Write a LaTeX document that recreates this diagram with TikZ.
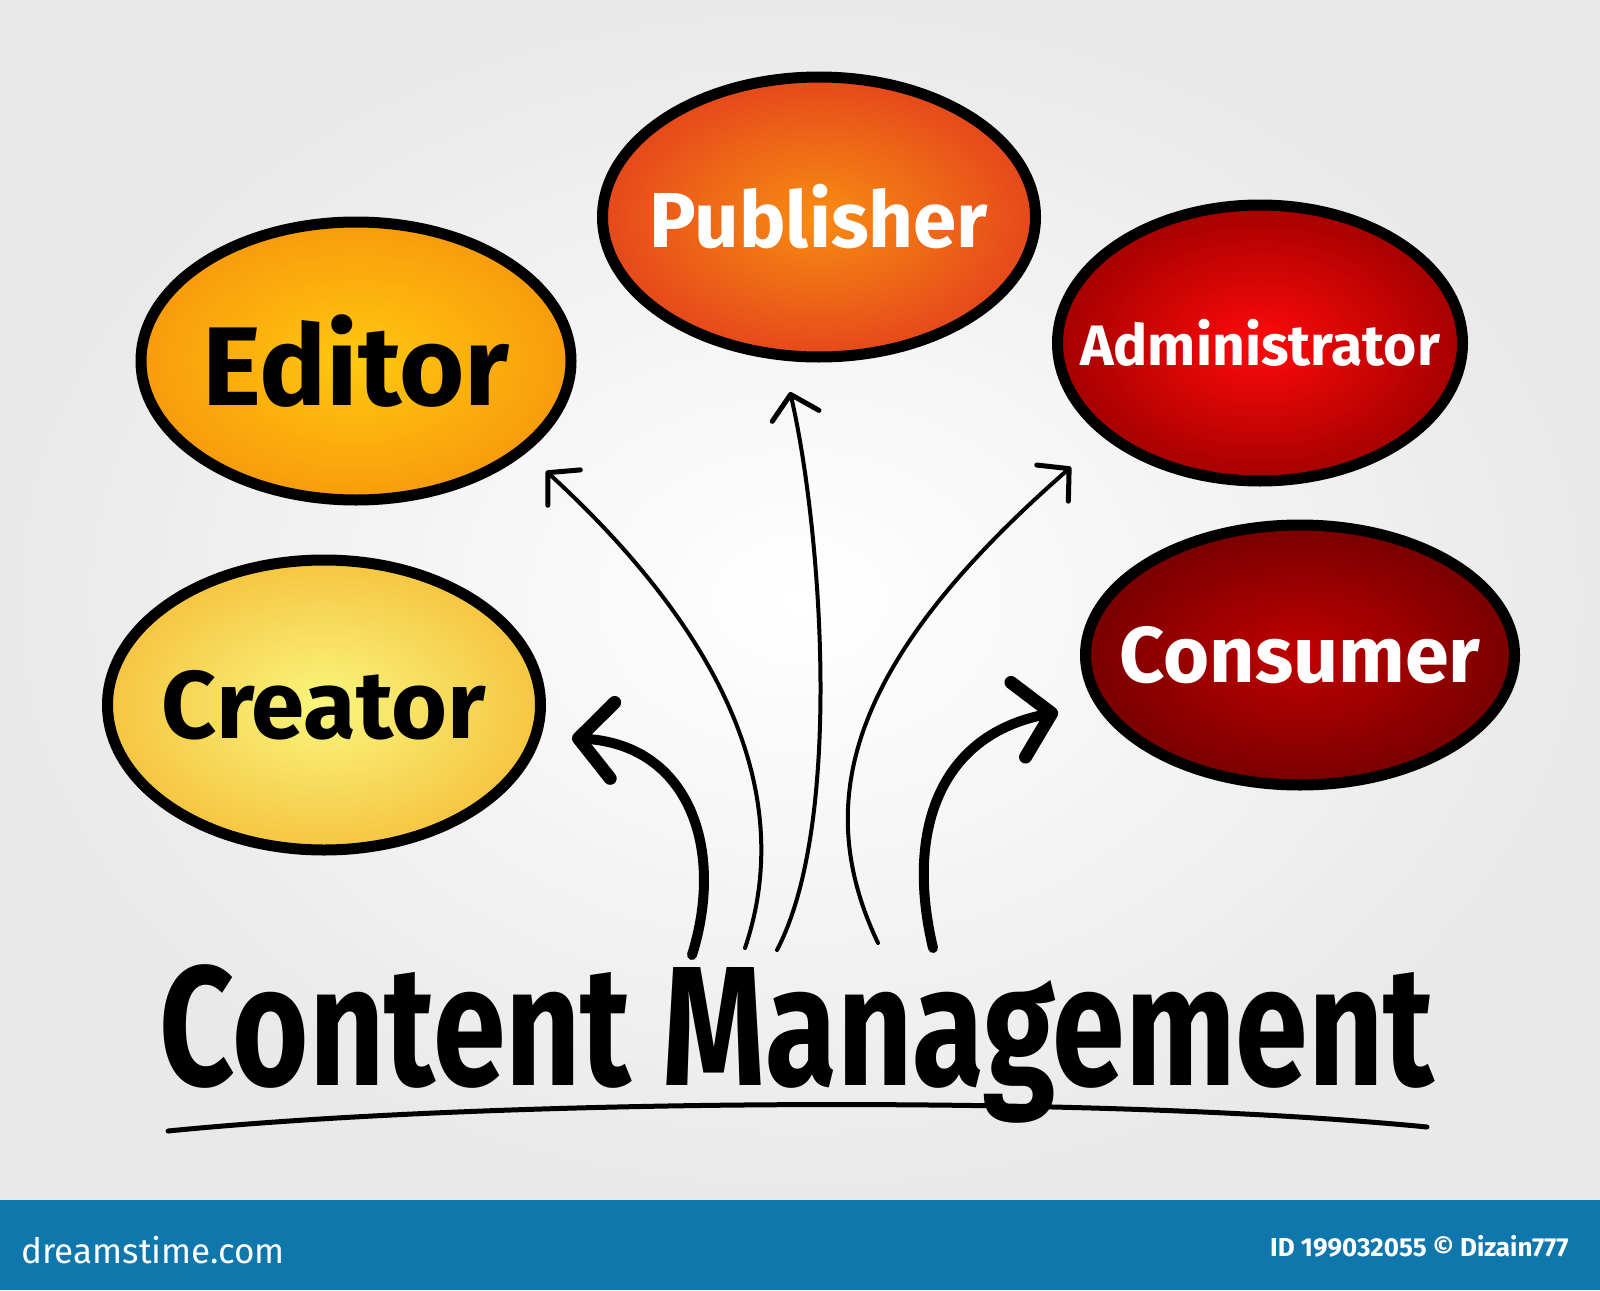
\documentclass[tikz,border=0pt]{standalone}
\usepackage{fontspec}
\setmainfont{Fira Sans}
\usetikzlibrary{arrows.meta,shapes.geometric,positioning}
\definecolor{editorin}{HTML}{FFC80F}
\definecolor{editorout}{HTML}{F99B0C}
\definecolor{creatorin}{HTML}{F9F67E}
\definecolor{creatorout}{HTML}{F6C541}
\definecolor{pubin}{HTML}{F98C12}
\definecolor{pubout}{HTML}{E5481B}
\definecolor{adminin}{HTML}{FF0A0A}
\definecolor{adminout}{HTML}{A50000}
\definecolor{consin}{HTML}{C10000}
\definecolor{consout}{HTML}{780000}
\definecolor{bggray}{HTML}{E9E9E9}
\definecolor{barblue}{HTML}{1077AD}
\tikzset{
    role/.style={
        ellipse,
        draw=black,
        line width=11pt,
        inner sep=0pt,
    },
    role text/.style={
        font=\bfseries\fontsize{#1}{#1}\selectfont,
    },
    thin arrow/.style={
        draw,
        line width=4pt,
        line cap=round,
        -{Straight Barb[length=22pt,width=48pt,line width=5pt,round]},
    },
    thick arrow/.style={
        draw,
        line width=10pt,
        line cap=round,
        -{Straight Barb[length=34pt,width=76pt,line width=13pt,round]},
    },
}

\begin{document}
\begin{tikzpicture}[x=1pt,y=-1pt]
    \useasboundingbox (0,0) rectangle (1600,1290);
    \shade[inner color=white, outer color=bggray] (0,0) rectangle (1600,1200);
    \fill[barblue] (0,1200) rectangle (1600,1290);

    \node [role, inner color=editorin, outer color=editorout, minimum width=430pt, minimum height=278pt,
           label={[role text=112]center:Editor}] (editor) at (356,361) {};
    \node [role, inner color=pubin, outer color=pubout, minimum width=433pt, minimum height=280pt,
           label={[role text=78, white]center:Publisher}] (publisher) at (819,217) {};
    \node [role, inner color=adminin, outer color=adminout, minimum width=405pt, minimum height=276pt,
           label={[role text=57, white]center:Administrator}] (admin) at (1260,343) {};
    \node [role, inner color=creatorin, outer color=creatorout, minimum width=433pt, minimum height=290pt,
           label={[role text=96]center:Creator}] (creator) at (324,705) {};
    \node [role, inner color=consin, outer color=consout, minimum width=429pt, minimum height=260pt,
           label={[role text=79, white]center:Consumer}] (consumer) at (1300,655) {};

    \node [role text=131, anchor=base] (title) at (797,1085) {\scalebox{1}[1.3]{Content Management}};
    \draw [line width=5pt, line cap=round] (168,1131) .. controls (500,1098) and (1100,1095) .. (1427,1127);

    \coordinate (S1) at (692,955);
    \coordinate (S2) at (745,948);
    \coordinate (S3) at (777,950);
    \coordinate (S4) at (878,943);
    \coordinate (S5) at (933,948);

    \draw [thick arrow] (S1) .. controls (725,850) and (690,745) .. ([shift={(248,33)}]creator.center);
    \draw [thin arrow] (S2) .. controls (795,800) and (730,640) .. ([shift={(190,110)}]editor.center);
    \draw [thin arrow] (S3) .. controls (845,820) and (820,520) .. ([shift={(-29,175)}]publisher.center);
    \draw [thin arrow] (S4) .. controls (810,800) and (850,660) .. ([shift={(-189,124)}]admin.center);
    \draw [thick arrow] (S5) .. controls (905,830) and (940,735) .. ([shift={(-242,57)}]consumer.center);

    \node [anchor=west, text=white, font=\fontsize{35}{35}\selectfont] (site) at (18,1250) {dreamstime.com};
    \node [anchor=east, text=white, font=\bfseries\fontsize{26}{26}\selectfont] (imageid) at (1572,1246) {ID 199032055 © Dizain777};
\end{tikzpicture}
\end{document}
